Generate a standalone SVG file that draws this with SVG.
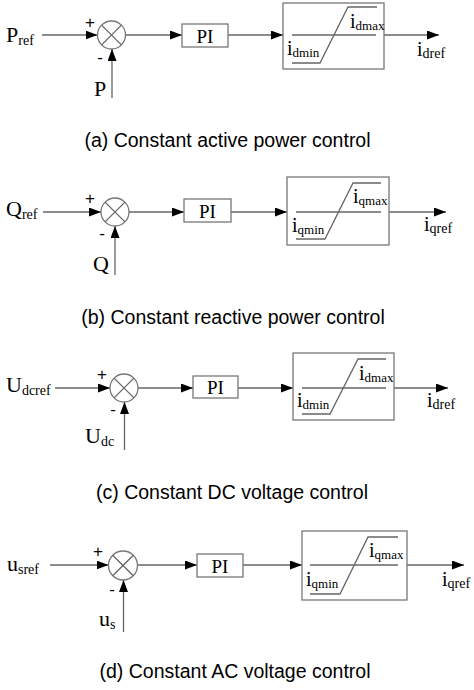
<svg xmlns="http://www.w3.org/2000/svg" width="474" height="690" viewBox="0 0 474 690">
<defs>
<marker id="ah" markerWidth="12" markerHeight="9" refX="12" refY="4.5" orient="auto" markerUnits="userSpaceOnUse">
<path d="M0,0 L12,4.5 L0,9 z" fill="#000"/>
</marker>
<style>
.ln{stroke:#666;stroke-width:1.3;fill:none}
.cn{stroke:#666;stroke-width:1.3;fill:none;marker-end:url(#ah)}
.bx{stroke:#777;stroke-width:1.3;fill:#fff}
.tm{font-family:"Liberation Serif","Times New Roman",serif;fill:#000}
.big{font-size:22px}
.mid{font-size:20px}
.pi{font-size:19px}
.sub{font-size:14px}
.ss{font-size:13px}
.sg{font-family:"Liberation Sans",Arial,sans-serif;font-size:17px;fill:#000;text-anchor:middle}
.cap{font-family:"Liberation Sans",Arial,sans-serif;font-size:19.5px;fill:#000;text-anchor:middle}
</style>
</defs>
<rect width="474" height="690" fill="#fff"/>

<!-- connectors -->
<g id="connectors">
<line class="cn" x1="42" y1="35" x2="97.5" y2="35"/>
<line class="cn" x1="112" y1="98" x2="112" y2="49"/>
<line class="cn" x1="126" y1="35" x2="182" y2="35"/>
<line class="cn" x1="228" y1="35" x2="283" y2="35"/>
<line class="cn" x1="384" y1="35" x2="439" y2="35"/>

<line class="cn" x1="43" y1="212" x2="101" y2="212"/>
<line class="cn" x1="115" y1="275" x2="115" y2="226"/>
<line class="cn" x1="129" y1="212" x2="184" y2="212"/>
<line class="cn" x1="231" y1="212" x2="287" y2="212"/>
<line class="cn" x1="389" y1="212" x2="446" y2="212"/>

<line class="cn" x1="55" y1="388" x2="110" y2="388"/>
<line class="cn" x1="124.5" y1="450" x2="124.5" y2="402"/>
<line class="cn" x1="138" y1="388" x2="193" y2="388"/>
<line class="cn" x1="238" y1="388" x2="293" y2="388"/>
<line class="cn" x1="394" y1="388" x2="448" y2="388"/>

<line class="cn" x1="50" y1="565" x2="108.5" y2="565"/>
<line class="cn" x1="123.5" y1="632" x2="123.5" y2="580"/>
<line class="cn" x1="138" y1="565" x2="197" y2="565"/>
<line class="cn" x1="243" y1="565" x2="302" y2="565"/>
<line class="cn" x1="407" y1="565" x2="464" y2="565"/>
</g>

<!-- Panel (a) -->
<g id="a-in"><text class="tm" x="6" y="42"><tspan class="big">P</tspan><tspan class="sub" dy="3">ref</tspan></text></g>
<g id="a-sum">
<circle class="bx" cx="111.5" cy="35" r="14"/>
<line class="ln" x1="101.6" y1="25.1" x2="121.4" y2="44.9"/>
<line class="ln" x1="121.4" y1="25.1" x2="101.6" y2="44.9"/>
<text class="sg" x="90" y="28">+</text>
<text class="sg" x="100" y="63">-</text>
</g>
<g id="a-fb"><text class="tm big" x="94" y="96">P</text></g>
<g id="a-pi"><rect class="bx" x="182" y="24" width="46" height="23"/><text class="tm pi" x="205" y="42.5" text-anchor="middle">PI</text></g>
<g id="a-sat">
<rect class="bx" x="283" y="3" width="101" height="66"/>
<line class="ln" x1="292" y1="35" x2="376" y2="35"/>
<polyline class="ln" points="292,63 320,63 348,7 377,7"/>
<text class="tm" x="350" y="28"><tspan class="mid">i</tspan><tspan class="ss" dy="2">dmax</tspan></text>
<text class="tm" x="287" y="55"><tspan class="mid">i</tspan><tspan class="ss" dy="2">dmin</tspan></text>
</g>
<g id="a-out"><text class="tm" x="417" y="56"><tspan class="mid">i</tspan><tspan class="sub" dy="2">dref</tspan></text></g>
<g id="a-cap"><text class="cap" x="227.5" y="147">(a) Constant active power control</text></g>

<!-- Panel (b) -->
<g id="b-in"><text class="tm" x="6" y="216"><tspan class="big">Q</tspan><tspan class="sub" dy="3">ref</tspan></text></g>
<g id="b-sum">
<circle class="bx" cx="115" cy="212" r="14"/>
<line class="ln" x1="105.1" y1="202.1" x2="124.9" y2="221.9"/>
<line class="ln" x1="124.9" y1="202.1" x2="105.1" y2="221.9"/>
<text class="sg" x="90" y="204">+</text>
<text class="sg" x="102" y="239">-</text>
</g>
<g id="b-fb"><text class="tm big" x="93" y="271">Q</text></g>
<g id="b-pi"><rect class="bx" x="184" y="199" width="47" height="23"/><text class="tm pi" x="207.5" y="217.5" text-anchor="middle">PI</text></g>
<g id="b-sat">
<rect class="bx" x="287" y="177" width="102" height="68"/>
<line class="ln" x1="296" y1="212" x2="381" y2="212"/>
<polyline class="ln" points="296,239 325,239 353,183 381,183"/>
<text class="tm" x="353" y="203"><tspan class="mid">i</tspan><tspan class="ss" dy="2">qmax</tspan></text>
<text class="tm" x="292" y="232"><tspan class="mid">i</tspan><tspan class="ss" dy="2">qmin</tspan></text>
</g>
<g id="b-out"><text class="tm" x="424" y="231"><tspan class="mid">i</tspan><tspan class="sub" dy="2">qref</tspan></text></g>
<g id="b-cap"><text class="cap" x="233" y="324">(b) Constant reactive power control</text></g>

<!-- Panel (c) -->
<g id="c-in"><text class="tm" x="6" y="392"><tspan class="big">U</tspan><tspan class="sub" dy="3">dcref</tspan></text></g>
<g id="c-sum">
<circle class="bx" cx="124" cy="388" r="14"/>
<line class="ln" x1="114.1" y1="378.1" x2="133.9" y2="397.9"/>
<line class="ln" x1="133.9" y1="378.1" x2="114.1" y2="397.9"/>
<text class="sg" x="102" y="380">+</text>
<text class="sg" x="113" y="415">-</text>
</g>
<g id="c-fb"><text class="tm" x="85" y="443"><tspan class="big">U</tspan><tspan class="sub" dy="3">dc</tspan></text></g>
<g id="c-pi"><rect class="bx" x="193" y="376" width="45" height="22"/><text class="tm pi" x="215.5" y="394" text-anchor="middle">PI</text></g>
<g id="c-sat">
<rect class="bx" x="293" y="353" width="101" height="67"/>
<line class="ln" x1="302" y1="388" x2="386" y2="388"/>
<polyline class="ln" points="302,414 330,414 358,359 386,359"/>
<text class="tm" x="359" y="380"><tspan class="mid">i</tspan><tspan class="ss" dy="2">dmax</tspan></text>
<text class="tm" x="297" y="407"><tspan class="mid">i</tspan><tspan class="ss" dy="2">dmin</tspan></text>
</g>
<g id="c-out"><text class="tm" x="427" y="407"><tspan class="mid">i</tspan><tspan class="sub" dy="2">dref</tspan></text></g>
<g id="c-cap"><text class="cap" x="232" y="499">(c) Constant DC voltage control</text></g>

<!-- Panel (d) -->
<g id="d-in"><text class="tm" x="7" y="571"><tspan class="big">u</tspan><tspan class="sub" dy="3">sref</tspan></text></g>
<g id="d-sum">
<circle class="bx" cx="123" cy="565.5" r="14.5"/>
<line class="ln" x1="112.7" y1="555.2" x2="133.3" y2="575.8"/>
<line class="ln" x1="133.3" y1="555.2" x2="112.7" y2="575.8"/>
<text class="sg" x="98" y="557">+</text>
<text class="sg" x="112" y="595">-</text>
</g>
<g id="d-fb"><text class="tm" x="99" y="626"><tspan class="big">u</tspan><tspan class="sub" dy="3">s</tspan></text></g>
<g id="d-pi"><rect class="bx" x="197" y="554" width="46" height="23"/><text class="tm pi" x="220" y="572.5" text-anchor="middle">PI</text></g>
<g id="d-sat">
<rect class="bx" x="302" y="531" width="105" height="69"/>
<line class="ln" x1="310" y1="565" x2="398" y2="565"/>
<polyline class="ln" points="310,594 340,594 368,537 398,537"/>
<text class="tm" x="369" y="557"><tspan class="mid">i</tspan><tspan class="ss" dy="2">qmax</tspan></text>
<text class="tm" x="306" y="586"><tspan class="mid">i</tspan><tspan class="ss" dy="2">qmin</tspan></text>
</g>
<g id="d-out"><text class="tm" x="442" y="586"><tspan class="mid">i</tspan><tspan class="sub" dy="2">qref</tspan></text></g>
<g id="d-cap"><text class="cap" x="235" y="678">(d) Constant AC voltage control</text></g>
</svg>
